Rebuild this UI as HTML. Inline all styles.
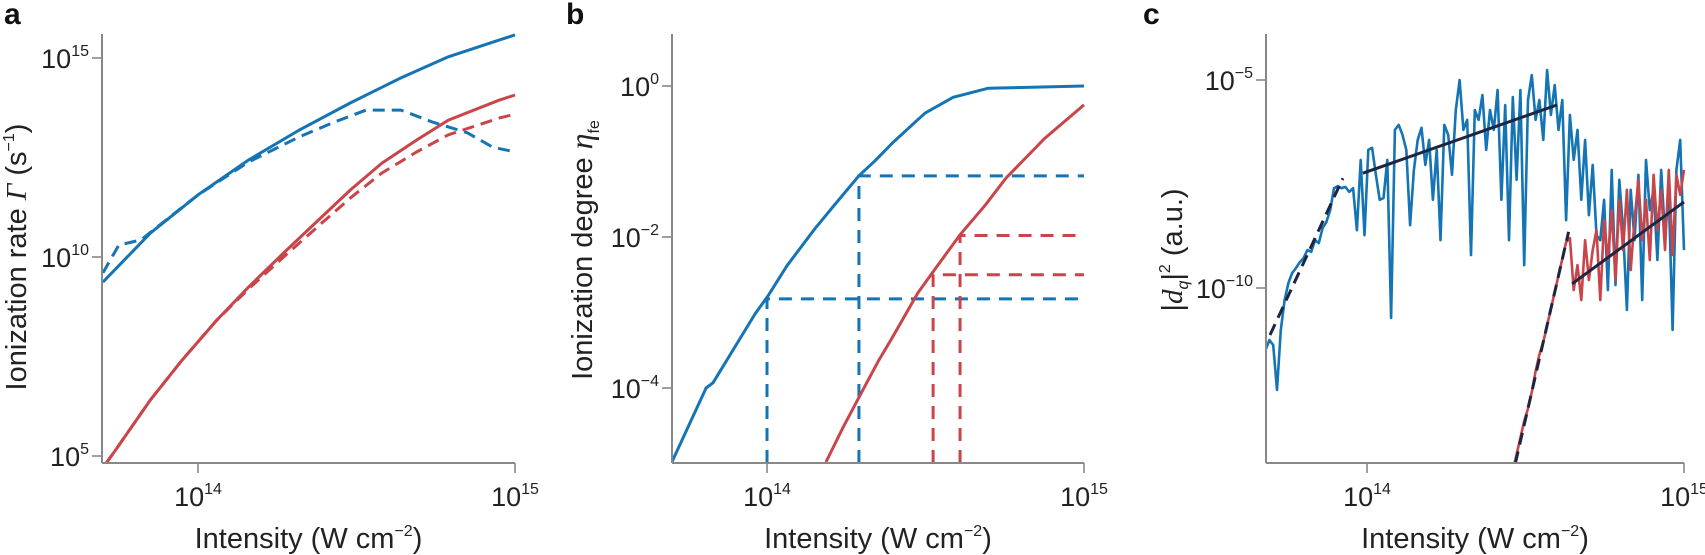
<!DOCTYPE html>
<html><head><meta charset="utf-8">
<style>
body{margin:0;background:#fff;}
svg{display:block;font-family:"Liberation Sans",sans-serif;}
.tick{font-size:27px;fill:#222;}
.sup{font-size:16px;}
.title{font-size:29px;fill:#222;}
.letter{font-size:30px;font-weight:bold;fill:#111;}
</style></head>
<body>
<svg id="fig" width="1705" height="555" viewBox="0 0 1705 555"></svg>
<script>
// ---- Panel a data (log10 intensity, log10 rate) ----
const aBlueSolidX=[13.70,13.85,14.0,14.16,14.32,14.48,14.64,14.79,14.95,15.0];
const aBlueSolidY=[9.37,10.60,11.56,12.44,13.19,13.87,14.50,15.03,15.45,15.58];
const aBlueDashX=[13.70,13.75,13.82,14.0,14.16,14.32,14.43,14.53,14.64,14.74,14.85,14.93,15.0];
const aBlueDashY=[9.60,10.30,10.43,11.56,12.39,13.02,13.39,13.69,13.69,13.39,13.12,12.76,12.64];
const aRedX=[13.71,13.74,13.85,13.95,14.06,14.16,14.27,14.38,14.48,14.58,14.69,14.79,14.95,15.0];
const aRedSolidY=[4.82,5.15,6.41,7.41,8.42,9.25,10.10,10.93,11.68,12.36,12.94,13.44,13.94,14.07];
const aRedDashY=[4.82,5.15,6.41,7.41,8.42,9.20,10.00,10.78,11.48,12.11,12.64,13.07,13.49,13.59];
const aYTicks=[5,10,15];
// ---- Panel b data (log10 intensity, log10 eta) ----
const bBlueX=[13.70,13.808,13.83,13.962,14.003,14.063,14.151,14.218,14.29,14.341,14.397,14.498,14.587,14.697,15.0];
const bBlueY=[-4.98,-4.00,-3.93,-3.02,-2.78,-2.38,-1.89,-1.55,-1.19,-0.99,-0.75,-0.36,-0.15,-0.03,0];
const bRedX=[14.186,14.24,14.297,14.353,14.397,14.476,14.524,14.609,14.688,14.754,14.877,15.0];
const bRedY=[-4.98,-4.52,-4.07,-3.63,-3.32,-2.74,-2.46,-1.97,-1.58,-1.22,-0.69,-0.25];
const bGuideX=[14.0,14.29,14.524,14.609];
const bGuideY=[-2.82,-1.19,-2.50,-1.98];
const bGuideColor=['blue','blue','red','red'];
const bYTicks=[-4,-2,0];
// ---- Panel c data (log10 intensity, log10 |d|^2) ----
const cStart=13.68, cStep=0.012;
const cBlueY=[-11.49,-11.25,-11.37,-12.45,-11.01,-10.29,-9.88,-9.64,-9.52,-9.38,-9.28,-9.09,-9.13,-8.85,-8.92,-8.56,-8.41,-8.13,-7.60,-7.55,-7.60,-7.57,-7.69,-7.60,-8.61,-6.92,-8.73,-6.68,-6.63,-7.28,-7.88,-7.84,-6.92,-10.72,-6.20,-6.08,-6.32,-6.68,-8.49,-7.16,-6.44,-6.15,-7.04,-6.44,-7.88,-6.68,-8.85,-6.08,-6.32,-7.28,-5.72,-5.00,-6.20,-5.96,-9.21,-5.72,-5.96,-5.36,-6.68,-5.72,-6.20,-5.24,-7.88,-5.60,-8.85,-5.41,-7.40,-5.24,-9.45,-5.48,-4.88,-5.96,-5.48,-6.44,-4.76,-5.84,-5.12,-6.20,-5.48,-8.37,-5.84,-6.92,-6.20,-7.88,-6.44,-8.25,-7.04,-8.73,-8.85,-7.88,-10.05,-7.16,-9.93,-7.40,-8.61,-10.53,-7.64,-8.85,-7.28,-10.29,-6.92,-8.13,-7.64,-9.33,-7.16,-8.73,-7.76,-11.01,-7.16,-6.44,-9.09];
const cRedStartIndex=64;
const cRedY=[-14.8,-14.4,-14.0,-13.6,-13.2,-12.9,-12.5,-12.0,-11.6,-11.3,-10.9,-10.5,-10.1,-9.7,-9.3,-8.9,-8.8,-10.05,-9.45,-10.29,-8.85,-9.81,-9.09,-8.61,-10.29,-8.37,-9.33,-8.13,-9.81,-7.88,-9.09,-7.64,-9.57,-8.37,-7.40,-8.85,-7.88,-9.33,-7.28,-8.61,-7.64,-9.09,-7.16,-9.21,-7.28,-7.76,-7.16];
const cFitX1=[13.694,13.987,14.468,14.647];
const cFitY1=[-11.13,-7.24,-14.21,-9.90];
const cFitX2=[13.924,14.599,14.636,15.0];
const cFitY2=[-7.36,-5.60,-8.65,-7.93];
const cFitDash=[true,false,true,false];
const cYTicks=[-10,-5];

const NS='http://www.w3.org/2000/svg';
const svg=document.getElementById('fig');
const BLUE='#1474b4', RED='#c9454a', NAVY='#1c2640', AXC='#888';
function el(tag,attrs,parent){const e=document.createElementNS(NS,tag);for(const k in attrs)e.setAttribute(k,attrs[k]);(parent||svg).appendChild(e);return e;}

function makePanel(p){
  const g=el('g',{});
  
  
  const cp=el('clipPath',{id:p.name+'-clip'},g);
  el('rect',{x:p.left,y:p.top-5,width:p.right-p.left+4,height:p.bottom-p.top+5},cp);
  p.g=g;
  p.px=L=>p.x14+(L-14)*(p.x15-p.x14);
  p.py=L=>p.yRef+(p.ref-L)*p.dec;
  const plot=el('g',{'clip-path':'url(#'+p.name+'-clip)'},g);
  p.plot=plot;
  const ya=el('line',{x1:p.left,y1:p.top,x2:p.left,y2:p.bottom,stroke:AXC,'stroke-width':2},g);
  
  const xa=el('line',{x1:p.left,y1:p.bottom,x2:p.right,y2:p.bottom,stroke:AXC,'stroke-width':2},g);
  
  [14,15].forEach(L=>{
    const x=p.px(L);
    el('line',{x1:x,y1:p.bottom,x2:x,y2:p.bottom+10,stroke:AXC,'stroke-width':1.6},g);
    const t=el('text',{x:x,y:p.bottom+43,'text-anchor':'middle',class:'tick'},g);
    
    t.appendChild(document.createTextNode('10'));
    const s=el('tspan',{class:'sup',dy:-12},t);s.textContent=String(L);
  });
  p.yt.forEach(L=>{
    const y=p.py(L);
    el('line',{x1:p.left-10,y1:y,x2:p.left,y2:y,stroke:AXC,'stroke-width':1.6},g);
    const t=el('text',{x:p.left-13,y:y+10,'text-anchor':'end',class:'tick'},g);
    
    t.appendChild(document.createTextNode('10'));
    const s=el('tspan',{class:'sup',dy:-12},t);s.textContent=(L<0?'\u2212'+(-L):String(L));
  });
  const xt=el('text',{x:(p.left+p.right)/2,y:p.bottom+85,'text-anchor':'middle',class:'title'},g);
  
  xt.innerHTML='Intensity (W cm<tspan class="sup" dy="-12">\u22122</tspan><tspan dy="12">)</tspan>';
  const lt=el('text',{x:p.letterX,y:24,class:'letter'},g);
  
  lt.textContent=p.letter;
  return p;
}
function line(p,xs,ys,color,dash,name,w){
  const d=xs.map((x,i)=>(i?'L':'M')+p.px(x).toFixed(1)+','+p.py(ys[i]).toFixed(1)).join('');
  const a={d:d,fill:'none',stroke:color,'stroke-width':w||3,'stroke-linejoin':'round'};
  if(dash)a['stroke-dasharray']='12,7';
  const e=el('path',a,p.plot);
  
  
  return e;
}

// Panel a
const A=makePanel({name:'panel-a',left:102,right:515,top:34,bottom:463,x14:198,x15:515,yRef:58,ref:15,dec:39.8,yt:aYTicks,letter:'a',letterX:4});
line(A,aBlueSolidX,aBlueSolidY,BLUE,false,'blue-solid-rate');
line(A,aBlueDashX,aBlueDashY,BLUE,true,'blue-dashed-rate');
line(A,aRedX,aRedSolidY,RED,false,'red-solid-rate');
line(A,aRedX,aRedDashY,RED,true,'red-dashed-rate');
const at=el('text',{transform:'translate(26,257) rotate(-90)','text-anchor':'middle',class:'title','font-size':'31'},A.g);


at.innerHTML='Ionization rate <tspan font-family="Liberation Serif" font-style="italic">Γ</tspan> (s<tspan class="sup" dy="-12">\u22121</tspan><tspan dy="12">)</tspan>';

// Panel b
const B=makePanel({name:'panel-b',left:672,right:1084,top:34,bottom:463,x14:767,x15:1084,yRef:86,ref:0,dec:75.5,yt:bYTicks,letter:'b',letterX:566});
bGuideX.forEach((gx,i)=>{
  const c=bGuideColor[i]==='blue'?BLUE:RED;
  const x=B.px(gx),y=B.py(bGuideY[i]);
  const v=el('path',{d:`M${x},${B.bottom}L${x},${y}L${B.right},${y}`,fill:'none',stroke:c,'stroke-width':3,'stroke-dasharray':'13,9'},B.plot);
  
  
});
line(B,bBlueX,bBlueY,BLUE,false,'blue-ionization-degree');
line(B,bRedX,bRedY,RED,false,'red-ionization-degree');
const bt=el('text',{transform:'translate(592,250) rotate(-90)','text-anchor':'middle',class:'title','font-size':'30'},B.g);


bt.innerHTML='Ionization degree <tspan font-family="Liberation Serif" font-style="italic" font-size="32">η</tspan><tspan class="sup" dy="7">fe</tspan>';

// Panel c
const C=makePanel({name:'panel-c',left:1266,right:1684,top:34,bottom:463,x14:1367,x15:1684,yRef:80,ref:-5,dec:41.6,yt:cYTicks,letter:'c',letterX:1143});
const cBlueX=cBlueY.map((_,i)=>cStart+i*cStep);
const cRedX=cRedY.map((_,i)=>cStart+(i+cRedStartIndex)*cStep);
line(C,cBlueX,cBlueY,BLUE,false,'blue-dipole',2.6);
line(C,cRedX,cRedY,RED,false,'red-dipole',2.6);
cFitX1.forEach((x1,i)=>{
  line(C,[x1,cFitX2[i]],[cFitY1[i],cFitY2[i]],NAVY,cFitDash[i],'fit-line',3);
});
const ct=el('text',{transform:'translate(1182,250) rotate(-90)','text-anchor':'middle',class:'title','font-size':'29'},C.g);


ct.innerHTML='|<tspan font-family="Liberation Serif" font-style="italic">d</tspan><tspan class="sup" dy="6" font-style="italic">q</tspan><tspan dy="-6">|</tspan><tspan class="sup" dy="-12">2</tspan><tspan dy="12"> (a.u.)</tspan>';
</script>
</body></html>
